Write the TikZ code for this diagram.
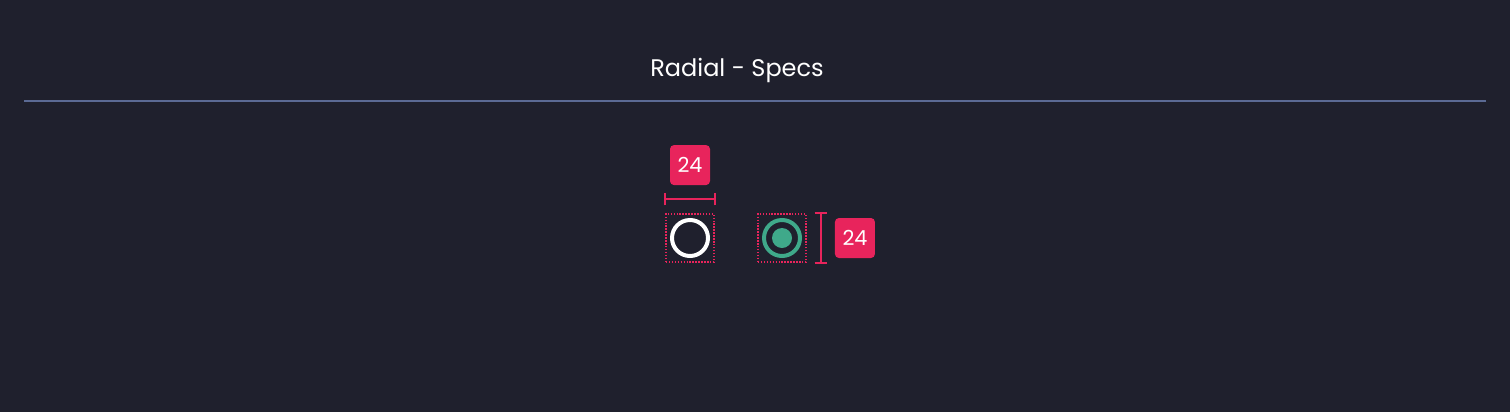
\documentclass[tikz,border=0pt]{standalone}
\usepackage{fontspec}
\setmainfont{Poppins}
\usetikzlibrary{positioning}

\definecolor{bgdark}{HTML}{1F202D}
\definecolor{rulegray}{HTML}{5B6A94}
\definecolor{specpink}{HTML}{E8245C}
\definecolor{radgreen}{HTML}{3FA98A}

\tikzset{
  badge/.style={fill=specpink, text=white, rounded corners=3pt, minimum size=30pt,
    inner sep=0pt, font=\fontsize{15.5}{17}\selectfont},
  specbox/.style={draw=specpink, dash pattern=on 1.1pt off 1.1pt, line width=1pt, minimum size=36pt, inner sep=0pt},
  dimline/.style={draw=specpink, line width=1.5pt},
}

\begin{document}
\begin{tikzpicture}[x=0.75pt,y=-0.75pt]
\fill[bgdark] (0,0) rectangle (1510,412);
\useasboundingbox (0,0) rectangle (1510,412);

% Title
\node[text=white, font=\fontsize{18}{21}\selectfont] (title) at (737,70) {Radial - Specs};
\coordinate (ruleL) at (24,101);
\coordinate (ruleR) at (1486,101);
\draw[rulegray, line width=1.5pt] (ruleL) -- (ruleR);

% Unchecked radial
\node[specbox] (boxoff) at (690,238) {};
\draw[white, line width=3pt] (boxoff.center) circle (13.5pt);

% Checked radial
\node[specbox] (boxon) at (782,238) {};
\draw[radgreen, line width=3pt] (boxon.center) circle (13.5pt);
\fill[radgreen] (boxon.center) circle (7.5pt);

% Width spec
\coordinate (wl) at ([yshift=10.5pt]boxoff.north west);
\coordinate (wr) at ([yshift=10.5pt]boxoff.north east);
\coordinate (wmid) at ([yshift=10.5pt]boxoff.north);
\draw[dimline] (wl) -- (wr);
\draw[dimline] ([yshift=-4.5pt]wl) -- ([yshift=4.5pt]wl);
\draw[dimline] ([yshift=-4.5pt]wr) -- ([yshift=4.5pt]wr);
\node[badge, above=10.5pt of wmid] (wbadge) {24};

% Height spec
\coordinate (ht) at ([xshift=10.5pt]boxon.north east);
\coordinate (hb) at ([xshift=10.5pt]boxon.south east);
\draw[dimline] (ht) -- (hb);
\draw[dimline] ([xshift=-4.5pt]ht) -- ([xshift=4.5pt]ht);
\draw[dimline] ([xshift=-4.5pt]hb) -- ([xshift=4.5pt]hb);
\node[badge, right=21pt of boxon] (hbadge) {24};
\end{tikzpicture}
\end{document}
